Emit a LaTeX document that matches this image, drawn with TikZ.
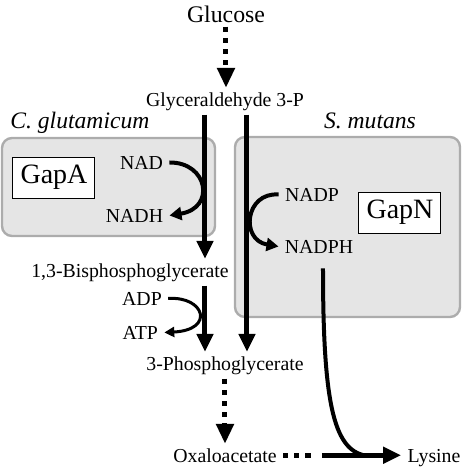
\documentclass[tikz,border=0pt]{standalone}
\usepackage{fontspec}
\setmainfont{Liberation Serif}
\usetikzlibrary{arrows.meta}

\begin{document}
\begin{tikzpicture}[x=0.5pt, y=-0.5pt,
	every node/.style={inner xsep=3pt, inner ysep=2pt, anchor=base, font=\fontsize{9.9}{12}\selectfont},
	organism/.style={font=\fontsize{11.8}{14}\selectfont\itshape},
	enzyme/.style={draw=black, line width=0.5pt, fill=white, anchor=center, inner sep=0pt, minimum width=41pt, minimum height=20.5pt, font=\fontsize{14}{17}\selectfont},
	cell/.style={draw=gray!65, fill=gray!20, line width=1.2pt, rounded corners=5pt},
	main/.style={line width=2.5pt, -{Triangle[width=8pt, length=9pt]}},
	dots/.style={line width=2.5pt, dash pattern=on 2.6pt off 3pt},
	dothead/.style={-{Triangle[width=8.5pt, length=10pt]}},
	cofactor/.style={line width=2pt, -{Triangle[width=6.5pt, length=6pt]}}]
			\useasboundingbox (0,0) rectangle (463,468);
			\path[cell] (2,138) rectangle (215,236);
			\path[cell] (235,137) rectangle (460,317);
			
			\node[font=\fontsize{11.9}{14}\selectfont] (glc) at (226,22) {Glucose};
			\node (gap) at (225,106) {Glyceraldehyde 3-P};
			\node (bpg) at (130,277) {1,3-Bisphosphoglycerate};
			\node (pga) at (225,370) {3-Phosphoglycerate};
			\node (oxa) at (225,462) {Oxaloacetate};
			\node (lys) at (434,462) {Lysine};
			\node[organism, anchor=base west, inner xsep=0pt] (cg) at (10,128) {C. glutamicum};
			\node[organism] (sm) at (370,128) {S. mutans};
			\node[enzyme] (gapa) at (54,177.5) {GapA};
			\node[enzyme] (gapn) at (400,212.5) {GapN};
			\node (nad) at (141.5,169) {NAD};
			\node (nadh) at (134.5,222) {NADH};
			\node (nadp) at (312,201) {NADP};
			\node (nadph) at (319,253) {NADPH};
			\node (adp) at (142,305) {ADP};
			\node (atp) at (140.3,339) {ATP};
			
			\coordinate (lcol) at (205,0);
			\coordinate (rcol) at (247,0);
			\coordinate (dotend) at (314,456);
			\coordinate (fluxstart) at (322,456);
			\coordinate (merge) at (368,456);
			
			\draw[cofactor] (nad.east) .. controls (208,162) and (216,208) .. (nadh.east);
			\draw[cofactor] (nadp.west) .. controls (245,192) and (240,240) .. (nadph.west);
			\draw[cofactor, line width=1.5pt, -{Triangle[width=5pt, length=5pt]}] (adp.east) .. controls (205,296) and (215,330) .. (atp.east);
			\draw[line width=2pt] ([shift={(4,11)}]nadph.south) .. controls (323,410) and (335,452) .. (merge);
			
			\draw[dots, dothead] (glc.south) -- (glc.south |- gap.north);
			\draw[main] (gap.south -| lcol) -- (bpg.north -| lcol);
			\draw[main] (bpg.south -| lcol) -- (pga.north -| lcol);
			\draw[main] (gap.south -| rcol) -- (pga.north -| rcol);
			\draw[dots, dothead] (pga.south) -- (oxa.north);
			\draw[dots] (oxa.east) -- (oxa.east -| dotend);
			\draw[main] (oxa.east -| fluxstart) -- (lys.west |- oxa.east);
\end{tikzpicture}
\end{document}
